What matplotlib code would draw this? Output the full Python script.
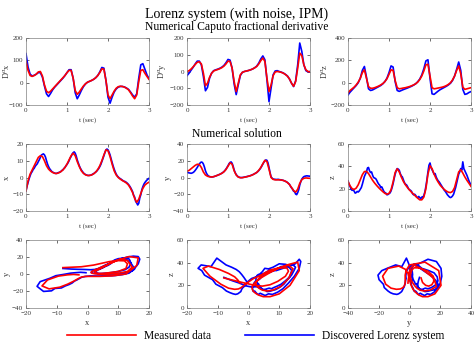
import numpy as np
import matplotlib
matplotlib.use('Agg')
import matplotlib.pyplot as plt
from matplotlib.lines import Line2D

plt.rcParams['font.family'] = ['Liberation Serif', 'DejaVu Serif']
plt.rcParams['mathtext.fontset'] = 'stix'

t = np.arange(61) * 0.05      # measured data / derivatives
tb = np.arange(121) * 0.025   # discovered system (finer, noisy)

# numerical solution, measured (red)
x_meas = [-8, -2, 2, 4.5, 7, 9.5, 12, 13, 12.5, 10, 7, 5, 3.8, 3, 2.5, 2.4, 2.8, 3.5, 4.5, 6, 8,
          10.5, 13, 14.5, 13, 9.5, 6.5, 4, 2.5, 1.6, 1.2, 1.2, 1.5, 2.2, 3.2, 4.8, 7, 10, 13.5, 16.5,
          16, 12.5, 8, 4, 1.5, 0, -1, -1.8, -2.5, -3.3, -4.5, -6.5, -9, -12.5, -14.8, -13, -9.5, -6.5,
          -4.5, -3.5, -2.8]
y_meas = [7.5, 8.5, 10.5, 12.5, 14.5, 15.8, 15.5, 12, 6.5, 3, 1.5, 0.8, 0.6, 1, 1.8, 2.8, 3.8, 5, 6.8, 9.5,
          13.5, 17.5, 16, 8, 3, 0.5, -0.3, -0.2, 0.3, 0.8, 1.5, 2.2, 3.2, 4.5, 6, 8.5, 12, 16.5, 20.5, 19,
          10, 0, -2.2, -2.8, -2.8, -2.8, -3, -3.5, -4.5, -6, -8.5, -12, -15.5, -17.5, -14, -7, -2.5, -1,
          -0.5, -0.8, -1]
z_meas = [26.5, 22.5, 20, 19.3, 20.5, 23.5, 28, 32.5, 35.3, 35.5, 33.5, 30.5, 27.5, 25, 22.8, 20.8, 19,
          17.3, 15.8, 15, 15.8, 19, 26, 34.5, 37.8, 35, 30.5, 26.5, 23.5, 21, 18.8, 16.8, 15, 13.2, 11.5,
          10, 10, 12.5, 20, 33, 40.5, 38, 33, 29, 25.8, 23, 21, 19.2, 17.8, 16.8, 16.5, 17.5, 21, 28, 35,
          37, 34, 30.5, 27.5, 24.8, 22]

# numerical solution, discovered (blue)
x_disc = [-8, -5.2, -3, -0.8, 1, 2.6, 3.5, 4.8, 5.5, 6.7, 7.5, 8.2, 9.5, 10.6, 12, 13.4, 13.8, 14.1,
          13.5, 12.2, 10, 8, 6.5, 5.3, 4.5, 3.7, 3.2, 2.9, 2.6, 2.4, 2.5, 2.8, 3, 3.2, 3.6, 4.2, 4.6, 5.4,
          6, 7, 7.8, 8.8, 10, 11.5, 12.5, 14, 14.8, 15.3, 14.5, 12.8, 10.5, 8.7, 7, 5.6, 4.5, 3.6, 2.8,
          2.2, 1.8, 1.5, 1.3, 1.2, 1.3, 1.4, 1.6, 2, 2.3, 2.8, 3.3, 3.8, 4.6, 5.4, 6.5, 7.8, 9.5, 11.2,
          13, 14.9, 16.5, 17, 16.5, 15.2, 13.5, 11.2, 9, 6.9, 5, 3.4, 2, 1, 0.3, -0.3, -0.7, -1.1, -1.6,
          -2, -2.3, -2.5, -3, -3.5, -4.2, -5, -6, -7.2, -8.5, -10.6, -11.7, -14.3, -15.2, -16.4, -15.4,
          -12.2, -10.3, -7.3, -5.5, -4, -3, -2.2, -1.5, -1, -0.5]
y_disc = [6.5, 5.8, 5.5, 5.3, 5, 5.4, 6, 7, 8.5, 10.2, 12, 14.2, 16, 17.6, 18.5, 18, 16, 12.5, 8, 5,
          3, 1.8, 1.2, 0.8, 0.6, 0.7, 1, 1.4, 1.8, 2.3, 2.8, 3.3, 3.8, 4.5, 5.2, 6, 7, 8.4, 10, 12, 14,
          16.5, 18, 18.6, 17, 13.5, 9, 5.8, 3.5, 2, 0.8, 0.3, 0, -0.1, 0, 0.2, 0.5, 0.7, 1, 1.3, 1.6,
          1.9, 2.3, 2.8, 3.3, 3.9, 4.6, 5.3, 6, 7, 8.3, 9.8, 11.5, 13.7, 16, 18.2, 20, 21, 20.5, 17.5,
          12, 6, 1, -0.8, -1.8, -2.1, -2.2, -2.4, -2.3, -2.2, -2.5, -2.7, -2.8, -3.2, -3.5, -4, -4.5,
          -5.1, -6, -7.1, -8.2, -10.6, -12.4, -14, -16.4, -17, -19.8, -20.5, -18, -14.5, -9, -5, -2,
          -0.2, 1, 1.5, 1.8, 2, 1.8, 1.7, 1.5]
z_disc = [27, 24, 22, 19.5, 18.5, 18.8, 17.8, 16, 16.5, 17.5, 17, 18, 19.5, 21, 24, 27.5, 31, 33, 35,
          38.5, 39, 36, 34.5, 35, 32, 30, 29.5, 29, 27.5, 25.5, 24, 23, 21, 21.5, 19.5, 17.5, 16.5, 16,
          14.5, 14.8, 15.5, 16.2, 18, 21, 24.5, 29, 33, 36, 38, 37.5, 36.5, 33.5, 31.5, 30.5, 28, 25.5,
          24, 23.5, 22, 20, 19, 18.5, 17.5, 15.5, 14.5, 15, 14, 12.5, 12, 13, 12, 11, 12.5, 12, 14, 17,
          22, 28, 35, 41, 43, 39, 37, 35, 33, 33.5, 30.5, 28.5, 27, 26, 24.5, 23, 21.5, 20, 18.5, 17.5,
          16, 14.5, 13.5, 12.5, 12, 12.5, 13.5, 15, 18, 21, 25, 29, 33, 35, 38, 36.5, 44, 38, 36, 34,
          32, 29.5, 27, 25, 23]

# numerical Caputo fractional derivative
dx_meas = [95, 55, 32, 28, 32, 38, 48, 50, 30, -10, -38, -45, -38, -28, -18, -8, 2, 12, 22, 32, 45,
           55, 55, 20, -35, -52, -42, -28, -15, -5, 2, 6, 10, 15, 22, 32, 45, 62, 60, 10, -55, -72,
           -55, -38, -25, -18, -16, -17, -20, -25, -32, -45, -60, -72, -55, 5, 55, 58, 42, 28, 15]
dx_disc = [130, 70, 38, 30, 33, 38, 45, 45, 25, -15, -50, -62, -48, -32, -20, -10, 0, 10, 20, 32, 45,
           58, 58, 20, -45, -72, -55, -35, -18, -6, 2, 6, 10, 15, 22, 32, 48, 68, 65, 10, -65, -92,
           -65, -42, -28, -20, -17, -17, -19, -24, -30, -42, -55, -65, -50, 20, 80, 85, 60, 35, 18]
dy_meas = [0, 5, 15, 28, 42, 55, 58, 45, -10, -85, -70, -35, -10, 3, 8, 12, 17, 23, 32, 45, 62, 60,
           20, -60, -120, -70, -20, -5, 0, 3, 6, 10, 15, 22, 30, 45, 65, 80, 60, -40, -120, -80, -25,
           -3, 0, -2, -5, -10, -18, -28, -45, -70, -88, -60, 20, 110, 95, 40, 10, 0, -2]
dy_disc = [-25, -10, 8, 25, 45, 62, 62, 40, -30, -115, -95, -40, -10, 5, 10, 14, 19, 26, 36, 52, 72,
           68, 20, -75, -138, -80, -25, -5, 0, 3, 6, 10, 15, 22, 32, 50, 75, 93, 70, -50, -180, -100,
           -20, 3, 5, 0, -4, -9, -17, -27, -45, -70, -90, -55, 40, 170, 120, 40, 5, -2, 0]
dz_meas = [-90, -70, -55, -40, -20, 5, 40, 90, 115, 40, -35, -50, -50, -45, -38, -30, -20, -8, 10, 35,
           75, 115, 110, 20, -45, -55, -52, -48, -45, -40, -35, -28, -20, -10, 5, 28, 60, 105, 160, 165,
           60, -45, -55, -52, -48, -44, -40, -34, -26, -15, 0, 25, 60, 110, 150, 80, -40, -60, -55, -50,
           -45]
dz_disc = [-110, -85, -65, -45, -25, 0, 40, 110, 145, 50, -55, -70, -65, -55, -45, -35, -25, -10, 10,
           40, 90, 150, 140, 10, -70, -78, -70, -62, -55, -48, -40, -32, -22, -10, 8, 32, 70, 125, 195,
           205, 40, -100, -105, -90, -75, -62, -52, -42, -32, -20, -5, 20, 60, 120, 185, 110, -60, -105,
           -100, -88, -80]

RED = '#ff0000'
BLUE = '#0000ff'
GRAY = '#333333'

fig = plt.figure(figsize=(4.74, 3.44), dpi=100)
W, H = 474.0, 344.0
cols = [26, 187, 348]
aw = 123
rows = [(38, 105), (144, 211), (240, 308)]


def make_ax(c, r):
    top, bot = rows[r]
    ax = fig.add_axes([cols[c] / W, 1 - bot / H, aw / W, (bot - top) / H])
    ax.tick_params(direction='in', length=2, width=0.5, labelsize=5, colors=GRAY, pad=2,
                   top=True, right=True)
    for s in ax.spines.values():
        s.set_linewidth(0.5)
        s.set_color('#808080')
    return ax


lw = 1.2
deriv = [(dx_disc, dx_meas, (-100, 200), [-100, 0, 100, 200], r'D$^{\alpha}$x'),
         (dy_disc, dy_meas, (-200, 200), [-200, -100, 0, 100, 200], r'D$^{\alpha}$y'),
         (dz_disc, dz_meas, (-200, 400), [-200, 0, 200, 400], r'D$^{\alpha}$z')]
for c, (bl, rd, yl, yt, lab) in enumerate(deriv):
    ax = make_ax(c, 0)
    ax.plot(t, bl, color=BLUE, lw=lw)
    ax.plot(t, rd, color=RED, lw=lw)
    ax.set_xlim(0, 3)
    ax.set_ylim(*yl)
    ax.set_xticks([0, 1, 2, 3])
    ax.set_yticks(yt)
    ax.set_xlabel('t (sec)', fontsize=5, color=GRAY, labelpad=3)
    ax.set_ylabel(lab, fontsize=6, color=GRAY)
    ax.yaxis.set_label_coords(-0.115 if c == 0 else -0.15, 0.5)

sol = [(x_disc, x_meas, (-20, 20), [-20, -10, 0, 10, 20], 'x'),
       (y_disc, y_meas, (-40, 40), [-40, -20, 0, 20, 40], 'y'),
       (z_disc, z_meas, (0, 60), [0, 20, 40, 60], 'z')]
for c, (bl, rd, yl, yt, lab) in enumerate(sol):
    ax = make_ax(c, 1)
    ax.plot(tb, bl, color=BLUE, lw=lw)
    ax.plot(t, rd, color=RED, lw=lw)
    ax.set_xlim(0, 3)
    ax.set_ylim(*yl)
    ax.set_xticks([0, 1, 2, 3])
    ax.set_yticks(yt)
    ax.set_xlabel('t (sec)', fontsize=5, color=GRAY, labelpad=3)
    ax.set_ylabel(lab, fontsize=6, color=GRAY, labelpad=1)

phase = [(x_disc, y_disc, x_meas, y_meas, (-20, 20), (-40, 40), [-20, -10, 0, 10, 20], [-40, -20, 0, 20, 40], 'x', 'y'),
         (x_disc, z_disc, x_meas, z_meas, (-20, 20), (0, 60), [-20, -10, 0, 10, 20], [0, 20, 40, 60], 'x', 'z'),
         (y_disc, z_disc, y_meas, z_meas, (-40, 40), (0, 60), [-40, -20, 0, 20, 40], [0, 20, 40, 60], 'y', 'z')]
for c, (bx, by, rx, ry, xl, yl, xt, yt, lx, ly) in enumerate(phase):
    ax = make_ax(c, 2)
    ax.plot(bx, by, color=BLUE, lw=lw)
    ax.plot(rx, ry, color=RED, lw=lw)
    ax.set_xlim(*xl)
    ax.set_ylim(*yl)
    ax.set_xticks(xt)
    ax.set_yticks(yt)
    ax.set_xlabel(lx, fontsize=6, color=GRAY, labelpad=2)
    ax.set_ylabel(ly, fontsize=6, color=GRAY, labelpad=1)

fig.text(0.5, 1 - 14 / H, 'Lorenz system (with noise, IPM)', ha='center', va='center', fontsize=10)
fig.text(0.5, 1 - 27 / H, 'Numerical Caputo fractional derivative', ha='center', va='center', fontsize=8.4)
fig.text(0.5, 1 - 134 / H, 'Numerical solution', ha='center', va='center', fontsize=8.4)

handles = [Line2D([], [], color=RED, lw=1.2), Line2D([], [], color=BLUE, lw=1.2)]
fig.legend(handles, ['Measured data', 'Discovered Lorenz system'], loc='center',
           bbox_to_anchor=(0.54, 1 - 336 / H), ncol=2, frameon=False, fontsize=8.3,
           handlelength=6.0, columnspacing=2.9, handletextpad=0.7)

fig.savefig('out.png', dpi=100)
